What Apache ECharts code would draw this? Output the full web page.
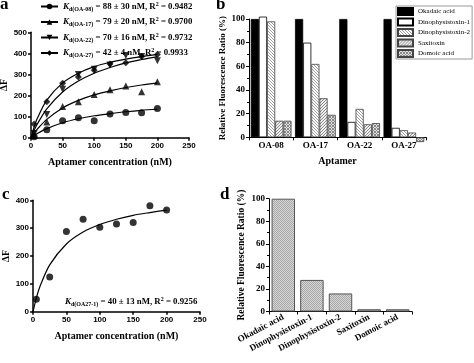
<!DOCTYPE html>
<html><head><meta charset="utf-8">
<script src="https://cdn.jsdelivr.net/npm/echarts@6/dist/echarts.min.js"></script>
<style>html,body{margin:0;padding:0;background:#fff}#c{width:474px;height:363px}</style>
</head><body><div id="c"></div>
<script>
// ---------- Panel a data ----------
const concA = [5, 25, 50, 75, 100, 125, 150, 175, 200];
const oa08 = [5, 38, 80, 95, 80, 112, 120, 118, 138];
const oa17 = [12, 75, 148, 170, 205, 228, 245, 218, 265];
const oa22 = [20, 110, 230, 300, 325, 345, 390, 385, 365];
const oa27 = [65, 170, 258, 288, 320, 350, 355, 385, 395];
// fitted curves as drawn
const fitX = [0, 5, 10, 25, 50, 75, 100, 125, 150, 175, 200];
const fit08 = [0, 10, 20, 43, 71, 90, 104, 114, 123, 130, 135];
const fit17 = [0, 22, 41, 87, 141, 177, 203, 222, 238, 250, 260];
const fit22 = [0, 35, 65, 137, 217, 269, 306, 333, 355, 371, 385];
const fit27 = [0, 51, 92, 178, 260, 306, 337, 358, 373, 385, 395];
const legendA = {
  'OA-08': ['OA-08', '88 ± 30 nM', '0.9482'],
  'OA-17': ['OA-17', '79 ± 20 nM', '0.9700'],
  'OA-22': ['OA-22', '70 ± 16 nM', '0.9732'],
  'OA-27': ['OA-27', '42 ± 4 nM', '0.9933']
};
// ---------- Panel b data ----------
const aptamers = ['OA-08', 'OA-17', 'OA-22', 'OA-27'];
const toxins = ['Okadaic acid', 'Dinophysistoxin-1', 'Dinophysistoxin-2', 'Saxitoxin', 'Domoic acid'];
const okadaicB = [100, 100, 100, 100];
const dtx1B = [102, 80, 13, 8];
const dtx2B = [98, 62, 24, 6];
const stxB = [14, 33, 11, 4];
const daB = [14, 19, 12, -4];
// ---------- Panel c data ----------
const concC = [5, 25, 50, 75, 100, 125, 150, 175, 200];
const oa271 = [45, 125, 288, 332, 303, 315, 320, 380, 365];
const fitCX = [0, 5, 10, 25, 50, 75, 100, 125, 150, 175, 200];
const fitC = [0, 49, 88, 168, 243, 286, 313, 332, 346, 356, 365];
// ---------- Panel d data ----------
const ratioD = [100, 28, 16, 2, 2];

const SERIF = "'Liberation Serif','Times New Roman',serif";
const SANS = "'Liberation Sans',Arial,sans-serif";

function pattern(bg, fg, s, mode) {
  const c = document.createElement('canvas');
  c.width = s; c.height = s;
  const x = c.getContext('2d');
  x.fillStyle = bg; x.fillRect(0, 0, s, s);
  x.strokeStyle = fg; x.lineWidth = 1;
  const fwd = () => { x.beginPath(); x.moveTo(-1, s + 1); x.lineTo(s + 1, -1); x.moveTo(-1, 1); x.lineTo(1, -1); x.moveTo(s - 1, s + 1); x.lineTo(s + 1, s - 1); x.stroke(); };
  const back = () => { x.beginPath(); x.moveTo(-1, -1); x.lineTo(s + 1, s + 1); x.moveTo(s - 1, -1); x.lineTo(s + 1, 1); x.moveTo(-1, s - 1); x.lineTo(1, s + 1); x.stroke(); };
  if (mode === 'f') fwd();
  if (mode === 'b') back();
  if (mode === 'x') { fwd(); back(); }
  return { image: c, repeat: 'repeat' };
}
function dots() {
  const c = document.createElement('canvas');
  c.width = 2; c.height = 2;
  const x = c.getContext('2d');
  x.fillStyle = '#d6d6d6'; x.fillRect(0, 0, 2, 2);
  x.fillStyle = '#a8a8a8'; x.fillRect(0, 0, 1, 1); x.fillRect(1, 1, 1, 1);
  return { image: c, repeat: 'repeat' };
}

const pair = (xs, ys) => xs.map((v, i) => [v, ys[i]]);

const axisLineA = { show: true, lineStyle: { color: '#000', width: 1.5 } };
const tickA = { show: true, length: 3, lineStyle: { color: '#000', width: 1.5 } };
const labelA = { fontFamily: SANS, fontWeight: 'bold', fontSize: 8, color: '#000', margin: 4 };
const labelB = { fontFamily: SERIF, fontWeight: 'bold', fontSize: 9, color: '#000', margin: 4 };
const nameSerif = { fontFamily: SERIF, fontWeight: 'bold', fontSize: 10, color: '#000' };
const lineB = { show: true, lineStyle: { color: '#000', width: 1 } };
const tickB = { show: true, length: 3, lineStyle: { color: '#000', width: 1 } };

const rich = {
  k: { fontFamily: SERIF, fontWeight: 'bold', fontStyle: 'italic', fontSize: 9, color: '#000', lineHeight: 11 },
  s: { fontFamily: SERIF, fontWeight: 'bold', fontSize: 6, color: '#000', verticalAlign: 'bottom', lineHeight: 6 },
  p: { fontFamily: SERIF, fontWeight: 'bold', fontSize: 6, color: '#000', verticalAlign: 'top', lineHeight: 6 },
  t: { fontFamily: SERIF, fontWeight: 'bold', fontSize: 8.8, color: '#000', lineHeight: 11 }
};

const symA = { 'OA-08': ['circle', 0], 'OA-17': ['triangle', 0], 'OA-22': ['triangle', 180], 'OA-27': ['diamond', 0] };
const fitsA = { 'OA-08': fit08, 'OA-17': fit17, 'OA-22': fit22, 'OA-27': fit27 };
const ptsA = { 'OA-08': oa08, 'OA-17': oa17, 'OA-22': oa22, 'OA-27': oa27 };

const series = [];
Object.keys(fitsA).forEach(k => {
  series.push({
    name: k, type: 'line', xAxisIndex: 0, yAxisIndex: 0, smooth: 0.3,
    data: pair(fitX, fitsA[k]), symbol: symA[k][0], symbolRotate: symA[k][1], showSymbol: false,
    symbolSize: 6, itemStyle: { color: '#000' }, lineStyle: { color: '#000', width: 1.2 }, silent: true, z: 2
  });
});
Object.keys(ptsA).forEach(k => {
  series.push({
    name: k + ' data', type: 'scatter', xAxisIndex: 0, yAxisIndex: 0,
    data: pair(concA, ptsA[k]), symbol: symA[k][0], symbolRotate: symA[k][1],
    symbolSize: 7, itemStyle: { color: '#000' }, z: 3
  });
});
const barStyles = [
  { color: '#000', borderColor: '#000', borderWidth: 0.8 },
  { color: '#fff', borderColor: '#000', borderWidth: 0.8 },
  { color: pattern('#ffffff', '#a0a0a0', 3, 'b'), borderColor: '#444', borderWidth: 0.8 },
  { color: pattern('#f0f0f0', '#8c8c8c', 3, 'f'), borderColor: '#444', borderWidth: 0.8 },
  { color: pattern('#e0e0e0', '#8a8a8a', 3, 'x'), borderColor: '#444', borderWidth: 0.8 }
];
[okadaicB, dtx1B, dtx2B, stxB, daB].forEach((vals, i) => {
  series.push({
    name: toxins[i], type: 'bar', xAxisIndex: 1, yAxisIndex: 1, data: vals,
    barGap: '0%', barCategoryGap: '8%', itemStyle: barStyles[i], clip: false
  });
});
series.push({
  name: 'OA27-1 fit', type: 'line', xAxisIndex: 2, yAxisIndex: 2, smooth: 0.3,
  data: pair(fitCX, fitC), showSymbol: false, lineStyle: { color: '#000', width: 1.2 }, silent: true
});
series.push({
  name: 'OA27-1', type: 'scatter', xAxisIndex: 2, yAxisIndex: 2,
  data: pair(concC, oa271), symbol: 'circle', symbolSize: 7, itemStyle: { color: '#000' }
});
series.push({
  name: 'Ratio', type: 'bar', xAxisIndex: 3, yAxisIndex: 3, data: ratioD, barCategoryGap: '18%',
  itemStyle: { color: dots(), borderColor: '#555', borderWidth: 1 }
});

const option = {
  animation: false,
  backgroundColor: '#fff',
  title: [
    { text: 'a', left: 0, top: -4, padding: 0, textStyle: { fontFamily: SERIF, fontWeight: 'bold', fontSize: 17, color: '#000' } },
    { text: 'b', left: 216, top: -4, padding: 0, textStyle: { fontFamily: SERIF, fontWeight: 'bold', fontSize: 17, color: '#000' } },
    { text: 'c', left: 2, top: 186, padding: 0, textStyle: { fontFamily: SERIF, fontWeight: 'bold', fontSize: 17, color: '#000' } },
    { text: 'd', left: 220, top: 186, padding: 0, textStyle: { fontFamily: SERIF, fontWeight: 'bold', fontSize: 17, color: '#000' } },
    { text: '{k|K}{s|d(OA27-1)}{t| = 40 ± 13 nM, R}{p|2}{t| = 0.9256}', left: 65, top: 296, padding: 0,
      textStyle: { rich: rich } }
  ],
  legend: [
    {
      data: ['OA-08', 'OA-17', 'OA-22', 'OA-27'], orient: 'vertical', left: 40, top: 1, padding: 0,
      itemWidth: 17, itemHeight: 7, itemGap: 4.5, selectedMode: false,
      formatter: n => '{k|K}{s|d(' + legendA[n][0] + ')}{t| = ' + legendA[n][1] + ', R}{p|2}{t| = ' + legendA[n][2] + '}',
      textStyle: { rich: rich, fontFamily: SERIF, fontSize: 8.8, fontWeight: 'bold', color: '#000' }
    },
    {
      data: toxins, orient: 'vertical', left: 396, top: 6, padding: [1, 2, 1, 1],
      itemWidth: 15, itemHeight: 7, itemGap: 1.5, icon: 'rect', selectedMode: false,
      borderColor: '#999', borderWidth: 1,
      textStyle: { fontFamily: SERIF, fontSize: 7, color: '#000', lineHeight: 7.5 }
    }
  ],
  grid: [
    { left: 31, top: 32.3, width: 158, height: 105.4, containLabel: false, outerBoundsMode: 'none' },
    { left: 249, top: 19, width: 177, height: 118.3, containLabel: false, outerBoundsMode: 'none' },
    { left: 33, top: 200.3, width: 167, height: 111.4, containLabel: false, outerBoundsMode: 'none' },
    { left: 269, top: 198.7, width: 143, height: 112.8, containLabel: false, outerBoundsMode: 'none' }
  ],
  xAxis: [
    { gridIndex: 0, type: 'value', min: 0, max: 250, interval: 50, axisLine: axisLineA, axisTick: tickA,
      axisLabel: labelA, splitLine: { show: false },
      name: 'Aptamer concentration (nM)', nameLocation: 'middle', nameGap: 20, nameTextStyle: nameSerif },
    { gridIndex: 1, type: 'category', data: aptamers, axisLine: lineB, axisTick: tickB,
      axisLabel: labelB, splitLine: { show: false },
      name: 'Aptamer', nameLocation: 'middle', nameGap: 19, nameTextStyle: nameSerif },
    { gridIndex: 2, type: 'value', min: 0, max: 250, interval: 50, axisLine: axisLineA, axisTick: tickA,
      axisLabel: labelA, splitLine: { show: false },
      name: 'Aptamer concentration (nM)', nameLocation: 'middle', nameGap: 20, nameTextStyle: nameSerif },
    { gridIndex: 3, type: 'category', data: toxins, axisLine: lineB, axisTick: tickB,
      axisLabel: Object.assign({}, labelB, { rotate: 28, interval: 0, margin: 5 }), splitLine: { show: false } }
  ],
  yAxis: [
    { gridIndex: 0, type: 'value', min: 0, max: 500, interval: 100, axisLine: axisLineA, axisTick: tickA,
      axisLabel: labelA, splitLine: { show: false },
      name: 'ΔF', nameLocation: 'middle', nameGap: 19, nameTextStyle: nameSerif },
    { gridIndex: 1, type: 'value', min: 0, max: 100, interval: 20, axisLine: lineB, axisTick: tickB,
      minorTick: { show: true, splitNumber: 2, length: 2, lineStyle: { color: '#000' } },
      axisLabel: labelB, splitLine: { show: false },
      name: 'Relative Fluorescence Ratio (%)', nameLocation: 'middle', nameGap: 22,
      nameTextStyle: Object.assign({}, nameSerif, { fontSize: 9 }) },
    { gridIndex: 2, type: 'value', min: 0, max: 400, interval: 100, axisLine: axisLineA, axisTick: tickA,
      axisLabel: labelA, splitLine: { show: false },
      name: 'ΔF', nameLocation: 'middle', nameGap: 21, nameTextStyle: nameSerif },
    { gridIndex: 3, type: 'value', min: 0, max: 100, interval: 20, axisLine: lineB, axisTick: tickB,
      minorTick: { show: true, splitNumber: 2, length: 2, lineStyle: { color: '#000' } },
      axisLabel: labelB, splitLine: { show: false },
      name: 'Relative Fluorescence Ratio (%)', nameLocation: 'middle', nameGap: 22,
      nameTextStyle: Object.assign({}, nameSerif, { fontSize: 9.5 }) }
  ],
  series: series
};
const chart = echarts.init(document.getElementById('c'), null, { renderer: 'canvas' });
chart.setOption(option);
</script>
</body></html>
